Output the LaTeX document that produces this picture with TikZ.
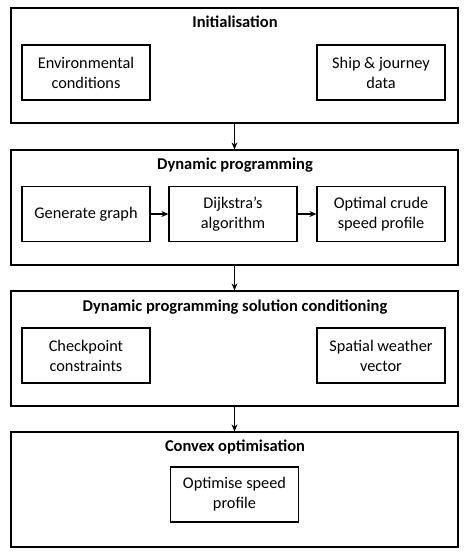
\documentclass[tikz,border=0pt]{standalone}
\usepackage{fontspec}
\setmainfont{Carlito}
\usetikzlibrary{arrows.meta}

\tikzset{
  stagebox/.style={draw, line width=1.3pt, minimum width=447pt, minimum height=115pt},
  taskbox/.style={draw, line width=1.2pt, minimum width=128pt, minimum height=55pt,
    align=center, font=\fontsize{16.3}{20}\selectfont},
  stagetitle/.style={font=\fontsize{16.5}{20}\selectfont\bfseries},
  flow/.style={-{Stealth[length=7pt,width=6pt]}, line width=1.1pt}
}

\begin{document}
\begin{tikzpicture}[x=1pt,y=-1pt]
  \useasboundingbox (0,0) rectangle (474,560);

  % Initialisation
  \node[stagebox] (init) at (234.5,65.5) {};
  \node[stagetitle] (initT) at (235,22) {Initialisation};
  \node[taskbox] (env) at (86,72.5) {Environmental\\conditions};
  \node[taskbox] (ship) at (381,72.5) {Ship \& journey\\data};

  % Dynamic programming
  \node[stagebox] (dp) at (234.5,207.5) {};
  \node[stagetitle] (dpT) at (235,165) {Dynamic programming};
  \node[taskbox] (graph) at (86,214) {Generate graph};
  \node[taskbox] (dijk) at (233,214) {Dijkstra’s\\algorithm};
  \node[taskbox] (crude) at (381,214) {Optimal crude\\speed profile};

  % Solution conditioning
  \node[stagebox] (cond) at (234.5,348.5) {};
  \node[stagetitle] (condT) at (235,307) {Dynamic programming solution conditioning};
  \node[taskbox] (check) at (86,355.5) {Checkpoint\\constraints};
  \node[taskbox] (weather) at (381,355.5) {Spatial weather\\vector};

  % Convex optimisation
  \node[stagebox] (cvx) at (234.5,489.5) {};
  \node[stagetitle] (cvxT) at (235,447) {Convex optimisation};
  \node[taskbox] (speed) at (234.5,494.5) {Optimise speed\\profile};

  % Arrows
  \draw[flow] (init) -- (dp);
  \draw[flow] (dp) -- (cond);
  \draw[flow] (cond) -- (cvx);
  \draw[flow] (graph) -- (dijk);
  \draw[flow] (dijk) -- (crude);
\end{tikzpicture}
\end{document}
